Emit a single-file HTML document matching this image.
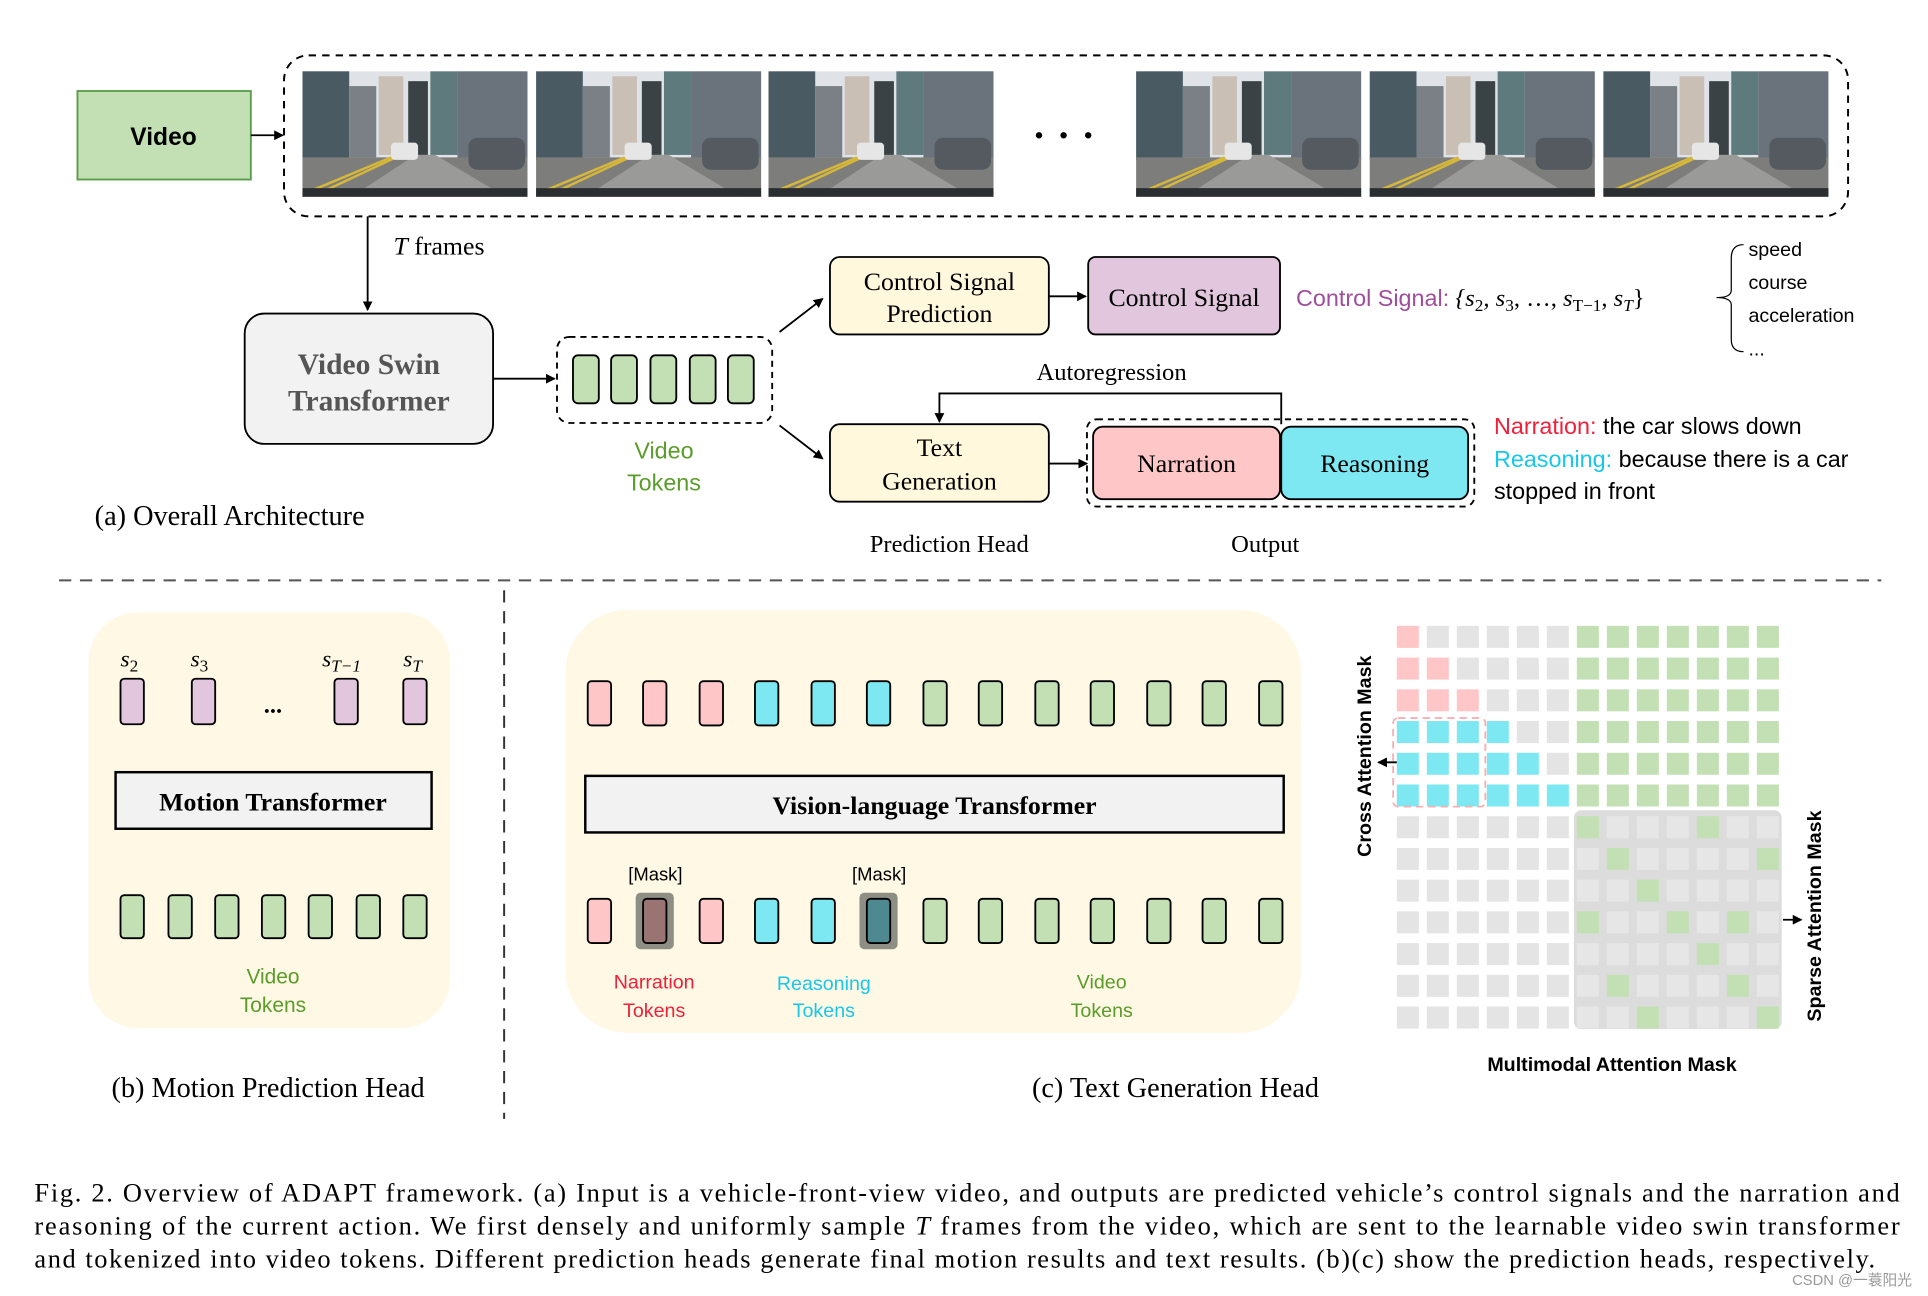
<!DOCTYPE html>
<html><head><meta charset="utf-8"><style>
html,body{margin:0;padding:0;background:#fff;}
svg{display:block;}
.serif{font-family:"Liberation Serif",serif;}
.sans{font-family:"Liberation Sans",sans-serif;}
</style></head><body>
<svg width="1928" height="1296" viewBox="0 0 1568 1054" xmlns="http://www.w3.org/2000/svg">
<defs>
<marker id="ar" markerWidth="8" markerHeight="8" refX="7" refY="4" orient="auto" markerUnits="userSpaceOnUse"><path d="M0,0 L8,4 L0,8 z" fill="#000"/></marker>
<g id="frame">
<rect x="0" y="0" width="183" height="102" fill="#dfe3e8"/>
<rect x="0" y="0" width="38" height="72" fill="#4a5a62"/>
<rect x="38" y="12" width="22" height="58" fill="#7a8086"/>
<rect x="62" y="4" width="20" height="64" fill="#c9bfb4"/>
<rect x="86" y="8" width="16" height="60" fill="#3a4246"/>
<rect x="104" y="0" width="22" height="68" fill="#5f7a7c"/>
<rect x="126" y="0" width="57" height="72" fill="#6a737b"/>
<polygon points="0,70 183,70 183,102 0,102" fill="#7d7d7b"/>
<polygon points="40,102 92,68 108,68 165,102" fill="#9a9a98"/>
<line x1="5" y1="98" x2="72" y2="70" stroke="#d6b73a" stroke-width="2"/>
<line x1="12" y1="100" x2="76" y2="70" stroke="#d6b73a" stroke-width="2"/>
<rect x="72" y="58" width="22" height="14" rx="3" fill="#e6e6e6"/>
<rect x="135" y="54" width="46" height="26" rx="7" fill="#555a60"/>
<rect x="0" y="95" width="183" height="7" fill="#2a2e30"/>
</g>
</defs>

<rect x="231" y="45" width="1272" height="131" rx="20" fill="none" stroke="#000" stroke-width="1.6" stroke-dasharray="6,5"/>
<rect x="63" y="74" width="141" height="72" fill="#c2e0b3" stroke="#5a9c49" stroke-width="1.5"/>
<text x="133" y="118" class="sans" font-size="20" font-weight="bold" text-anchor="middle">Video</text>
<line x1="204" y1="110" x2="230" y2="110" stroke="#000" stroke-width="1.5" marker-end="url(#ar)"/>
<use href="#frame" x="246" y="58"/>
<use href="#frame" x="436" y="58"/>
<use href="#frame" x="625" y="58"/>
<use href="#frame" x="924" y="58"/>
<use href="#frame" x="1114" y="58"/>
<use href="#frame" x="1304" y="58"/>
<circle cx="845" cy="110" r="2.6"/><circle cx="865" cy="110" r="2.6"/><circle cx="885" cy="110" r="2.6"/>

<line x1="299" y1="176" x2="299" y2="252" stroke="#000" stroke-width="1.5" marker-end="url(#ar)"/>
<text x="320" y="207" class="serif" font-size="21"><tspan font-style="italic">T</tspan> frames</text>

<rect x="199" y="255" width="202" height="106" rx="16" fill="#f2f2f2" stroke="#000" stroke-width="1.5"/>
<text x="300" y="304" class="serif" font-size="24" font-weight="bold" fill="#555" text-anchor="middle">Video Swin</text>
<text x="300" y="334" class="serif" font-size="24" font-weight="bold" fill="#555" text-anchor="middle">Transformer</text>
<line x1="401" y1="308" x2="451" y2="308" stroke="#000" stroke-width="1.5" marker-end="url(#ar)"/>
<rect x="453" y="274" width="175" height="70" rx="10" fill="none" stroke="#000" stroke-width="1.5" stroke-dasharray="5,4"/>
<g fill="#c2e0b3" stroke="#000" stroke-width="1.5">
<rect x="466" y="289" width="21" height="39" rx="4"/><rect x="497" y="289" width="21" height="39" rx="4"/><rect x="529" y="289" width="21" height="39" rx="4"/><rect x="561" y="289" width="21" height="39" rx="4"/><rect x="592" y="289" width="21" height="39" rx="4"/>
</g>
<text x="540" y="373" class="sans" font-size="19" fill="#5a9c2a" text-anchor="middle">Video</text>
<text x="540" y="399" class="sans" font-size="19" fill="#5a9c2a" text-anchor="middle">Tokens</text>
<text x="77" y="427" class="serif" font-size="23">(a) Overall Architecture</text>

<line x1="634" y1="270" x2="669" y2="243" stroke="#000" stroke-width="1.5" marker-end="url(#ar)"/>
<line x1="634" y1="346" x2="669" y2="373" stroke="#000" stroke-width="1.5" marker-end="url(#ar)"/>

<rect x="675" y="209" width="178" height="63" rx="8" fill="#fff8dc" stroke="#000" stroke-width="1.5"/>
<text x="764" y="236" class="serif" font-size="21" text-anchor="middle">Control Signal</text>
<text x="764" y="262" class="serif" font-size="21" text-anchor="middle">Prediction</text>
<line x1="853" y1="241" x2="883" y2="241" stroke="#000" stroke-width="1.5" marker-end="url(#ar)"/>
<rect x="885" y="209" width="156" height="63" rx="6" fill="#e2c6de" stroke="#000" stroke-width="1.5"/>
<text x="963" y="249" class="serif" font-size="21" text-anchor="middle">Control Signal</text>
<text x="1054" y="249" font-size="20"><tspan class="sans" fill="#a04d9a" font-size="19">Control Signal:</tspan><tspan class="serif" font-style="italic"> {s</tspan><tspan class="serif" font-size="14" dy="4">2</tspan><tspan class="serif" font-style="italic" dy="-4">, s</tspan><tspan class="serif" font-size="14" dy="4">3</tspan><tspan class="serif" dy="-4">, …, </tspan><tspan class="serif" font-style="italic">s</tspan><tspan class="serif" font-size="14" dy="4">T−1</tspan><tspan class="serif" dy="-4">, </tspan><tspan class="serif" font-style="italic">s</tspan><tspan class="serif" font-size="14" font-style="italic" dy="4">T</tspan><tspan class="serif" dy="-4">}</tspan></text>
<path d="M1418,199 Q1408,199 1408,210 L1408,236 Q1408,242 1396,242 Q1408,242 1408,248 L1408,276 Q1408,286 1418,286" fill="none" stroke="#000" stroke-width="1"/>
<text x="1422" y="208" class="sans" font-size="16">speed</text>
<text x="1422" y="235" class="sans" font-size="16">course</text>
<text x="1422" y="262" class="sans" font-size="16">acceleration</text>
<text x="1422" y="289" class="sans" font-size="16">...</text>

<text x="904" y="309" class="serif" font-size="20" text-anchor="middle">Autoregression</text>
<polyline points="1042,345 1042,320 764,320 764,343" fill="none" stroke="#000" stroke-width="1.5" marker-end="url(#ar)"/>
<rect x="675" y="345" width="178" height="63" rx="8" fill="#fff8dc" stroke="#000" stroke-width="1.5"/>
<text x="764" y="371" class="serif" font-size="21" text-anchor="middle">Text</text>
<text x="764" y="398" class="serif" font-size="21" text-anchor="middle">Generation</text>
<line x1="853" y1="377" x2="884" y2="377" stroke="#000" stroke-width="1.5" marker-end="url(#ar)"/>
<rect x="884" y="341" width="315" height="71" rx="8" fill="none" stroke="#000" stroke-width="1.5" stroke-dasharray="5,4"/>
<rect x="889" y="347" width="152" height="59" rx="8" fill="#ffc6c8" stroke="#000" stroke-width="1.5"/>
<text x="965" y="384" class="serif" font-size="21" text-anchor="middle">Narration</text>
<rect x="1042" y="347" width="152" height="59" rx="8" fill="#7de8f2" stroke="#000" stroke-width="1.5"/>
<text x="1118" y="384" class="serif" font-size="21" text-anchor="middle">Reasoning</text>
<text x="772" y="449" class="serif" font-size="20" text-anchor="middle">Prediction Head</text>
<text x="1029" y="449" class="serif" font-size="20" text-anchor="middle">Output</text>
<text x="1215" y="353" class="sans" font-size="19"><tspan fill="#f0203a">Narration:</tspan><tspan>  the car slows down</tspan></text>
<text x="1215" y="380" class="sans" font-size="19"><tspan fill="#18c8e8">Reasoning:</tspan><tspan> because there is a car</tspan></text>
<text x="1215" y="406" class="sans" font-size="19">stopped in front</text>

<line x1="48" y1="472" x2="1530" y2="472" stroke="#555" stroke-width="1.6" stroke-dasharray="10,7"/>
<line x1="410" y1="480" x2="410" y2="910" stroke="#333" stroke-width="1.6" stroke-dasharray="10,7"/>

<rect x="72" y="498" width="294" height="338" rx="40" fill="#fef8e4"/>
<g class="serif" font-size="19" font-style="italic">
<text x="98" y="542">s<tspan font-size="14" font-style="normal" dy="4">2</tspan></text>
<text x="155" y="542">s<tspan font-size="14" font-style="normal" dy="4">3</tspan></text>
<text x="262" y="542">s<tspan font-size="14" font-style="italic" dy="4">T−1</tspan></text>
<text x="328" y="542">s<tspan font-size="14" font-style="italic" dy="4">T</tspan></text>
</g>
<g fill="#e2c6de" stroke="#000" stroke-width="1.5">
<rect x="98" y="552" width="19" height="37" rx="3"/><rect x="156" y="552" width="19" height="37" rx="3"/><rect x="272" y="552" width="19" height="37" rx="3"/><rect x="328" y="552" width="19" height="37" rx="3"/>
</g>
<text x="222" y="580" class="serif" font-size="20" font-weight="bold" text-anchor="middle">...</text>
<rect x="94" y="628" width="257" height="46" fill="#f2f2f2" stroke="#000" stroke-width="2"/>
<text x="222" y="659" class="serif" font-size="21" font-weight="bold" text-anchor="middle">Motion Transformer</text>
<g fill="#c2e0b3" stroke="#000" stroke-width="1.5">
<rect x="98" y="728" width="19" height="35" rx="3"/><rect x="137" y="728" width="19" height="35" rx="3"/><rect x="175" y="728" width="19" height="35" rx="3"/><rect x="213" y="728" width="19" height="35" rx="3"/><rect x="251" y="728" width="19" height="35" rx="3"/><rect x="290" y="728" width="19" height="35" rx="3"/><rect x="328" y="728" width="19" height="35" rx="3"/>
</g>
<text x="222" y="800" class="sans" font-size="17" fill="#5a9c2a" text-anchor="middle">Video</text>
<text x="222" y="823" class="sans" font-size="17" fill="#5a9c2a" text-anchor="middle">Tokens</text>
<text x="218" y="892" class="serif" font-size="23" text-anchor="middle">(b) Motion Prediction Head</text>

<rect x="460" y="496" width="598" height="344" rx="50" fill="#fef8e4"/>
<g stroke="#000" stroke-width="1.5">
<rect x="478" y="554" width="19" height="36" rx="3" fill="#ffc6c8"/>
<rect x="523" y="554" width="19" height="36" rx="3" fill="#ffc6c8"/>
<rect x="569" y="554" width="19" height="36" rx="3" fill="#ffc6c8"/>
<rect x="614" y="554" width="19" height="36" rx="3" fill="#7de8f2"/>
<rect x="660" y="554" width="19" height="36" rx="3" fill="#7de8f2"/>
<rect x="705" y="554" width="19" height="36" rx="3" fill="#7de8f2"/>
<g fill="#c2e0b3">
<rect x="751" y="554" width="19" height="36" rx="3"/><rect x="796" y="554" width="19" height="36" rx="3"/><rect x="842" y="554" width="19" height="36" rx="3"/><rect x="887" y="554" width="19" height="36" rx="3"/><rect x="933" y="554" width="19" height="36" rx="3"/><rect x="978" y="554" width="19" height="36" rx="3"/><rect x="1024" y="554" width="19" height="36" rx="3"/>
</g>
</g>
<rect x="476" y="631" width="568" height="46" fill="#f2f2f2" stroke="#000" stroke-width="2"/>
<text x="760" y="662" class="serif" font-size="21" font-weight="bold" text-anchor="middle">Vision-language Transformer</text>
<text x="533" y="716" class="sans" font-size="15" text-anchor="middle">[Mask]</text>
<text x="715" y="716" class="sans" font-size="15" text-anchor="middle">[Mask]</text>
<rect x="517" y="726" width="31" height="46" rx="4" fill="#8e8e84"/>
<rect x="699" y="726" width="31" height="46" rx="4" fill="#8e8e84"/>
<g stroke="#000" stroke-width="1.5">
<rect x="478" y="731" width="19" height="36" rx="3" fill="#ffc6c8"/>
<rect x="523" y="731" width="19" height="36" rx="3" fill="#9a7472"/>
<rect x="569" y="731" width="19" height="36" rx="3" fill="#ffc6c8"/>
<rect x="614" y="731" width="19" height="36" rx="3" fill="#7de8f2"/>
<rect x="660" y="731" width="19" height="36" rx="3" fill="#7de8f2"/>
<rect x="705" y="731" width="19" height="36" rx="3" fill="#4e8890"/>
<g fill="#c2e0b3">
<rect x="751" y="731" width="19" height="36" rx="3"/><rect x="796" y="731" width="19" height="36" rx="3"/><rect x="842" y="731" width="19" height="36" rx="3"/><rect x="887" y="731" width="19" height="36" rx="3"/><rect x="933" y="731" width="19" height="36" rx="3"/><rect x="978" y="731" width="19" height="36" rx="3"/><rect x="1024" y="731" width="19" height="36" rx="3"/>
</g>
</g>
<g class="sans" font-size="16" text-anchor="middle">
<text x="532" y="804" fill="#f0203a">Narration</text><text x="532" y="827" fill="#f0203a">Tokens</text>
<text x="670" y="805" fill="#18c8e8">Reasoning</text><text x="670" y="827" fill="#18c8e8">Tokens</text>
<text x="896" y="804" fill="#5a9c2a">Video</text><text x="896" y="827" fill="#5a9c2a">Tokens</text>
</g>
<text x="956" y="892" class="serif" font-size="23" text-anchor="middle">(c) Text Generation Head</text>

<rect x="1280" y="659" width="169" height="178" rx="6" fill="#dcdcdc"/>
<g id="grid"></g>
<rect x="1133" y="584" width="75" height="72" rx="4" fill="none" stroke="#f5b0b5" stroke-width="1.5" stroke-dasharray="6,4"/>
<line x1="1136" y1="620" x2="1121" y2="620" stroke="#000" stroke-width="1.5" marker-end="url(#ar)"/>
<line x1="1450" y1="748" x2="1465" y2="748" stroke="#000" stroke-width="1.5" marker-end="url(#ar)"/>
<text transform="translate(1115,615) rotate(-90)" class="sans" font-size="16" font-weight="bold" text-anchor="middle">Cross Attention Mask</text>
<text transform="translate(1481,745) rotate(-90)" class="sans" font-size="16" font-weight="bold" text-anchor="middle">Sparse Attention Mask</text>
<text x="1311" y="871" class="sans" font-size="16" font-weight="bold" text-anchor="middle">Multimodal Attention Mask</text>

<g class="serif" font-size="21.5">
<text x="28" y="977" textLength="1517" lengthAdjust="spacing">Fig. 2.   Overview of ADAPT framework. (a) Input is a vehicle-front-view video, and outputs are predicted vehicle’s control signals and the narration and</text>
<text x="28" y="1004" textLength="1517" lengthAdjust="spacing">reasoning of the current action. We first densely and uniformly sample <tspan font-style="italic">T</tspan> frames from the video, which are sent to the learnable video swin transformer</text>
<text x="28" y="1031" textLength="1497" lengthAdjust="spacing">and tokenized into video tokens. Different prediction heads generate final motion results and text results. (b)(c) show the prediction heads, respectively.</text>
</g>
<text x="1555" y="1045" class="sans" font-size="12" fill="#999" text-anchor="end">CSDN @一蓑阳光</text>

<script>
(function(){
var g=document.getElementById('grid'),ns='http://www.w3.org/2000/svg';
var sp={6:[6,10],7:[7,12],8:[8],9:[6,9,11],10:[10],11:[7,11],12:[8,12]};
for(var r=0;r<13;r++)for(var c=0;c<13;c++){
 var col='#e4e4e4';
 if(r<3){ if(c<=r) col='#ffc6c8'; else if(c>=6) col='#c2e0b3'; }
 else if(r<6){ if(c<=r) col='#7de8f2'; else if(c>=6) col='#c2e0b3'; }
 else { if(c>=6){ col=(sp[r].indexOf(c)>=0)?'#c2e0b3':'#e6e6e6'; } }
 var e=document.createElementNS(ns,'rect');
 e.setAttribute('x',1136+c*24.4);e.setAttribute('y',509+r*25.8);
 e.setAttribute('width',17.9);e.setAttribute('height',17.9);e.setAttribute('fill',col);
 g.appendChild(e);
}})();
</script>
</svg>
</body></html>
